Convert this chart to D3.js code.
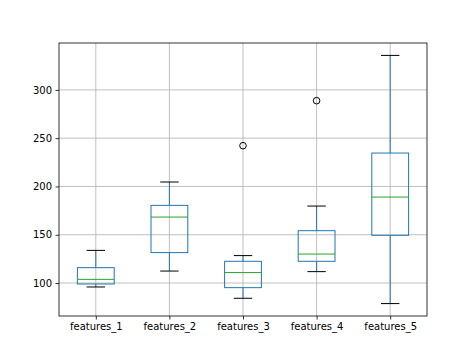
<!DOCTYPE html>
<html>
<head>
<meta charset="utf-8">
<script src="https://cdn.jsdelivr.net/npm/d3@7"></script>
<style>
  html, body { margin: 0; padding: 0; background: #fff; }
  svg { display: block; font-family: "DejaVu Sans", sans-serif; }
</style>
</head>
<body>
<svg id="chart" width="474" height="355"></svg>
<script>
const categories = ["features_1", "features_2", "features_3", "features_4", "features_5"];
const whiskerLow  = [95.9, 112.4, 84.2, 111.8, 78.7];
const q1          = [99.0, 131.5, 95.2, 122.5, 149.4];
const medians     = [103.8, 168.3, 110.8, 130.0, 189.0];
const q3          = [115.9, 180.4, 122.5, 154.2, 234.6];
const whiskerHigh = [133.8, 204.6, 128.4, 179.7, 335.7];
const outliers    = [[], [], [242.2], [288.8], []];
const yTicks      = [100, 150, 200, 250, 300];

(function () {
const svg = d3.select("#chart");
const mL = 59, mR = 427, mT = 43, mB = 316;

const allVals = whiskerLow.concat(whiskerHigh, outliers.flat());
const lo = d3.min(allVals), hi = d3.max(allVals);
const pad = (hi - lo) * 0.05;

const x = d3.scaleLinear().domain([0.5, categories.length + 0.5]).range([mL, mR]);
const y = d3.scaleLinear().domain([lo - pad, hi + pad]).range([mB, mT]);

// grid
const g = svg.append("g");
g.selectAll(".hg").data(yTicks).enter().append("line")
  .attr("x1", mL).attr("x2", mR)
  .attr("y1", d => y(d)).attr("y2", d => y(d))
  .attr("stroke", "#b0b0b0").attr("stroke-width", 0.8);
g.selectAll(".vg").data(categories).enter().append("line")
  .attr("x1", (d, i) => x(i + 1)).attr("x2", (d, i) => x(i + 1))
  .attr("y1", mT).attr("y2", mB)
  .attr("stroke", "#b0b0b0").attr("stroke-width", 0.8);

const data = categories.map((c, i) => ({
  c, i, lo: whiskerLow[i], q1: q1[i], med: medians[i], q3: q3[i], hi: whiskerHigh[i], out: outliers[i]
}));

const boxW = 0.25, capW = 0.125;
const b = svg.append("g").selectAll("g").data(data).enter().append("g");
// whiskers
b.append("line").attr("x1", d => x(d.i + 1)).attr("x2", d => x(d.i + 1))
  .attr("y1", d => y(d.q3)).attr("y2", d => y(d.hi)).attr("stroke", "#1f77b4").attr("stroke-width", 1);
b.append("line").attr("x1", d => x(d.i + 1)).attr("x2", d => x(d.i + 1))
  .attr("y1", d => y(d.q1)).attr("y2", d => y(d.lo)).attr("stroke", "#1f77b4").attr("stroke-width", 1);
// caps
b.append("line").attr("x1", d => x(d.i + 1 - capW)).attr("x2", d => x(d.i + 1 + capW))
  .attr("y1", d => y(d.hi)).attr("y2", d => y(d.hi)).attr("stroke", "#000").attr("stroke-width", 1);
b.append("line").attr("x1", d => x(d.i + 1 - capW)).attr("x2", d => x(d.i + 1 + capW))
  .attr("y1", d => y(d.lo)).attr("y2", d => y(d.lo)).attr("stroke", "#000").attr("stroke-width", 1);
// box
b.append("rect").attr("x", d => x(d.i + 1 - boxW)).attr("width", d => x(d.i + 1 + boxW) - x(d.i + 1 - boxW))
  .attr("y", d => y(d.q3)).attr("height", d => y(d.q1) - y(d.q3))
  .attr("fill", "none").attr("stroke", "#1f77b4").attr("stroke-width", 1);
// median
b.append("line").attr("x1", d => x(d.i + 1 - boxW)).attr("x2", d => x(d.i + 1 + boxW))
  .attr("y1", d => y(d.med)).attr("y2", d => y(d.med)).attr("stroke", "#2ca02c").attr("stroke-width", 1);
// outliers
b.selectAll("circle").data(d => d.out.map(v => ({ v, i: d.i }))).enter().append("circle")
  .attr("cx", d => x(d.i + 1)).attr("cy", d => y(d.v)).attr("r", 3.3)
  .attr("fill", "none").attr("stroke", "#000").attr("stroke-width", 1);

// axes
const xAxis = d3.axisBottom(x).tickValues(categories.map((c, i) => i + 1))
  .tickFormat((d) => categories[d - 1]).tickSizeOuter(0).tickSize(3.5).tickPadding(3.5);
const yAxis = d3.axisLeft(y).tickValues(yTicks).tickSizeOuter(0).tickSize(3.5).tickPadding(3.5);

const xa = svg.append("g").attr("transform", `translate(0,${mB})`).call(xAxis);
const ya = svg.append("g").attr("transform", `translate(${mL},0)`).call(yAxis);
[xa, ya].forEach(a => {
  a.select(".domain").remove();
  a.selectAll("text").attr("font-size", "10px").attr("fill", "#000").attr("font-family", "DejaVu Sans");
  a.selectAll("line").attr("stroke", "#000").attr("stroke-width", 0.8);
});

// frame
svg.append("rect").attr("x", mL).attr("y", mT).attr("width", mR - mL).attr("height", mB - mT)
  .attr("fill", "none").attr("stroke", "#000").attr("stroke-width", 0.8);
})();
</script>
</body>
</html>
